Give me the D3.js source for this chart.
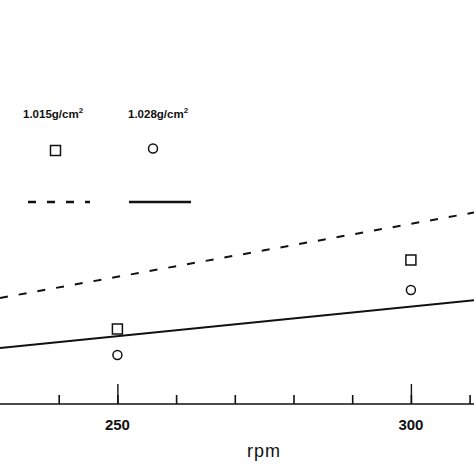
<!DOCTYPE html>
<html><head><meta charset="utf-8">
<script src="https://cdn.jsdelivr.net/npm/d3@7"></script>
<style>body{margin:0;background:#fff}text{font-family:"Liberation Sans",Arial,sans-serif;font-weight:bold;fill:#111}</style>
</head><body>
<svg id="c" width="474" height="474"></svg>
<script>
var rpm = [250, 300];
var lowDensity = [18.75, 36];   // 1.015 g/cm2, squares
var highDensity = [12.25, 28.5]; // 1.028 g/cm2, circles
var fitLow = [[230, 26.5], [311.2, 48]];
var fitHigh = [[230, 14], [311.2, 26]];
var minorTicks = [240, 250, 260, 270, 280, 290, 300, 310];
var majorTicks = [250, 300];

var svg = d3.select("#c");
var x = d3.scaleLinear().domain([230, 310]).range([0, 469.6]);
var y = d3.scaleLinear().domain([0, 100]).range([404, 4]);

svg.append("g").attr("transform", "translate(0,404)")
  .call(d3.axisTop(x).tickValues(minorTicks).tickSize(9).tickFormat(""))
  .call(g => g.select(".domain").remove())
  .selectAll("line").attr("stroke", "#111").attr("stroke-width", 1.6);
svg.append("g").attr("transform", "translate(0,404)")
  .call(d3.axisTop(x).tickValues(majorTicks).tickSize(20).tickFormat(""))
  .call(g => g.select(".domain").remove())
  .selectAll("line").attr("stroke", "#111").attr("stroke-width", 1.4);
svg.append("line").attr("x1", 0).attr("x2", 474).attr("y1", 404).attr("y2", 404)
  .attr("stroke", "#111").attr("stroke-width", 1.5);
svg.selectAll(".tl").data(majorTicks).enter().append("text")
  .attr("x", d => x(d)).attr("y", 430).attr("text-anchor", "middle")
  .attr("font-size", 15).text(d => d);
svg.append("text").attr("x", 264).attr("y", 457).attr("text-anchor", "middle")
  .attr("font-size", 18).style("font-weight", "normal").style("letter-spacing", "1px").text("rpm");

var line = d3.line().x(d => x(d[0])).y(d => y(d[1]));
svg.append("path").attr("d", line(fitLow)).attr("fill", "none").attr("stroke", "#111")
  .attr("stroke-width", 2).attr("stroke-dasharray", "8,11");
svg.append("path").attr("d", line(fitHigh)).attr("fill", "none").attr("stroke", "#111")
  .attr("stroke-width", 2);

svg.selectAll(".sq").data(rpm).enter().append("rect")
  .attr("x", (d, i) => x(d) - 5).attr("y", (d, i) => y(lowDensity[i]) - 5)
  .attr("width", 10).attr("height", 10).attr("fill", "none").attr("stroke", "#111").attr("stroke-width", 1.5);
svg.selectAll(".ci").data(rpm).enter().append("circle")
  .attr("cx", d => x(d)).attr("cy", (d, i) => y(highDensity[i])).attr("r", 4.5)
  .attr("fill", "none").attr("stroke", "#111").attr("stroke-width", 1.5);

// legend
var leg = [{label: "1.015g/cm", x: 23, sym: "sq", lx: 28, dash: "8,11"},
           {label: "1.028g/cm", x: 128, sym: "ci", lx: 129, dash: null}];
leg.forEach(function(l) {
  var t = svg.append("text").attr("x", l.x).attr("y", 118).attr("font-size", 11.5).text(l.label);
  t.append("tspan").attr("dy", -5).attr("font-size", 8).text("2");
  if (l.sym === "sq") svg.append("rect").attr("x", 50.5).attr("y", 145.5).attr("width", 10).attr("height", 10)
    .attr("fill", "none").attr("stroke", "#111").attr("stroke-width", 1.5);
  else svg.append("circle").attr("cx", 153).attr("cy", 148.5).attr("r", 4.5)
    .attr("fill", "none").attr("stroke", "#111").attr("stroke-width", 1.5);
  svg.append("line").attr("x1", l.lx).attr("x2", l.lx + 62).attr("y1", 202).attr("y2", 202)
    .attr("stroke", "#111").attr("stroke-width", 2.5).attr("stroke-dasharray", l.dash);
});
</script>
</body></html>
